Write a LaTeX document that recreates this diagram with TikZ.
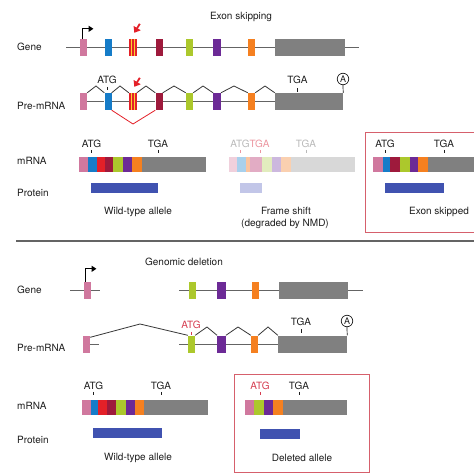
\documentclass[tikz,border=0pt]{standalone}
\usepackage{fontspec}
\setmainfont{TeX Gyre Heros}
\usetikzlibrary{arrows.meta}
\definecolor{cpink}{RGB}{208,120,158}
\definecolor{cblue}{RGB}{22,124,200}
\definecolor{cred}{RGB}{228,32,40}
\definecolor{cyellow}{RGB}{250,210,50}
\definecolor{cmaroon}{RGB}{158,26,60}
\definecolor{cgreen}{RGB}{172,200,44}
\definecolor{cpurple}{RGB}{108,42,150}
\definecolor{corange}{RGB}{245,128,32}
\definecolor{cgrey}{RGB}{128,128,128}
\definecolor{cprot}{RGB}{64,82,176}
\definecolor{cline}{RGB}{100,100,100}
\definecolor{csplice}{RGB}{55,55,55}
\definecolor{ctext}{RGB}{30,30,30}
\definecolor{cbox}{RGB}{214,96,108}
\definecolor{catgred}{RGB}{214,60,80}
\definecolor{fpink}{RGB}{240,208,220}
\definecolor{fblue}{RGB}{168,208,236}
\definecolor{forangeA}{RGB}{250,196,160}
\definecolor{fmaroon}{RGB}{226,172,196}
\definecolor{fgreen}{RGB}{226,236,190}
\definecolor{fpurple}{RGB}{204,184,222}
\definecolor{forange}{RGB}{250,208,176}
\definecolor{fgrey}{RGB}{216,216,216}
\definecolor{fprot}{RGB}{194,198,232}
\definecolor{ftext}{RGB}{185,185,185}
\definecolor{fred}{RGB}{236,150,160}
\tikzset{
 exon/.style={rectangle, inner sep=0pt, minimum height=17pt, minimum width=7pt},
 redexon/.style={exon, minimum width=7.5pt, fill=cred,
   path picture={\fill[cyellow] ([xshift=2.1pt]path picture bounding box.south west) rectangle ([xshift=3.1pt]path picture bounding box.north west);
                 \fill[cyellow] ([xshift=4.5pt]path picture bounding box.south west) rectangle ([xshift=5.5pt]path picture bounding box.north west);}},
 bigexon/.style={rectangle, inner sep=0pt, minimum height=17pt, fill=cgrey},
 lbl/.style={inner sep=0pt, font=\fontsize{10}{12}\selectfont, text height=7.2pt, text depth=0pt, text=ctext},
 rowlbl/.style={lbl, anchor=west},
 geneline/.style={draw=cline, line width=0.9pt},
 splice/.style={draw=csplice, line width=0.8pt},
 tickmark/.style={draw=ctext, line width=0.7pt},
 prot/.style={rectangle, inner sep=0pt, minimum height=10pt, fill=cprot},
 promoter/.style={draw=black, line width=1.3pt, -{Triangle[length=5pt,width=6pt]}},
 mut/.style={draw=cred, line width=1.8pt, -{Triangle[length=5.5pt,width=8pt]}},
 redbox/.style={draw=cbox, line width=1pt},
 polya/.style={circle, draw=ctext, line width=0.7pt, inner sep=0pt, minimum size=11.5pt, text=ctext, font=\fontsize{9}{10}\selectfont},
}
\begin{document}
\begin{tikzpicture}[x=1pt,y=-1pt]
\useasboundingbox (0,0) rectangle (474,474);
\fill[white] (0,0) rectangle (474,474);
\clip (0,0) rectangle (474,474);

% ================= Exon skipping =================
\node[lbl] (t1) at (241,15.5) {Exon skipping};

% Gene
\node[rowlbl] (lg1) at (17,46.5) {Gene};
\coordinate (gA) at (66,47.5);
\coordinate (gB) at (359,47.5);
\draw[geneline] (gA) -- (gB);
\node[exon, fill=cpink] (g1) at (83.5,47.5) {};
\node[exon, fill=cblue] (g2) at (108,47.5) {};
\node[redexon] (g3) at (132.8,47.5) {};
\node[exon, fill=cmaroon] (g4) at (159,47.5) {};
\node[exon, fill=cgreen] (g5) at (189.5,47.5) {};
\node[exon, fill=cpurple, minimum width=7.5pt] (g6) at (217,47.5) {};
\node[exon, fill=corange] (g7) at (251.5,47.5) {};
\node[bigexon, minimum width=70pt] (g8) at (310,47.5) {};
\draw[promoter] ([xshift=-1pt]g1.north) -- ++(0,-10) -- ++(11,0);
\draw[mut] ([xshift=7pt,yshift=15pt]g3.north) -- ([xshift=1.5pt,yshift=6pt]g3.north);

% Pre-mRNA
\node[rowlbl] (lp1) at (17,105.5) {Pre-mRNA};
\node[exon, fill=cpink] (p1) at (83.5,101.5) {};
\node[exon, fill=cblue] (p2) at (108,101.5) {};
\node[redexon] (p3) at (132.8,101.5) {};
\node[exon, fill=cmaroon] (p4) at (159,101.5) {};
\node[exon, fill=cgreen] (p5) at (189.5,101.5) {};
\node[exon, fill=cpurple, minimum width=7.5pt] (p6) at (217,101.5) {};
\node[exon, fill=corange] (p7) at (251.5,101.5) {};
\node[bigexon, minimum width=68pt] (p8) at (309,101.5) {};
\foreach \a/\b in {p1/p2,p2/p3,p3/p4,p4/p5,p5/p6,p6/p7,p7/p8}
  \draw[geneline] (\a.east) -- (\b.west);
\draw[splice] (p1.north east) -- (96,86) -- (p2.north west);
\draw[splice] (p2.north east) -- (120,86) -- (p3.north west);
\draw[splice] (p3.north east) -- (146,86) -- (p4.north west);
\draw[splice] (p4.north east) -- (174,86) -- (p5.north west);
\draw[splice] (p5.north east) -- (203,86) -- (p6.north west);
\draw[splice] (p6.north east) -- (234,86) -- (p7.north west);
\draw[splice] (p7.north east) -- (265,86) -- (p8.north west);
\draw[draw=cred, line width=0.8pt] (p2.south east) -- (133,124) -- (p4.south west);
\node[lbl] (atg1) at (107,80) {ATG};
\draw[tickmark] (atg1.south) ++(0,3) -- ++(0,3.5);
\node[lbl] (tga1) at (297.5,80) {TGA};
\draw[tickmark] (tga1.south) ++(0,4.5) -- ++(0,3.5);
\node[polya] (pa1) at (343,79) {A};
\draw[tickmark] (pa1.south) -- (p8.north east);
\draw[mut] ([xshift=7pt,yshift=15pt]p3.north) -- ([xshift=1.5pt,yshift=6pt]p3.north);

% mRNA wild type
\node[rowlbl] (lm1) at (17,161) {mRNA};
\fill[cpink] (79,157) rectangle (88,172);
\fill[cblue] (88,157) rectangle (97,172);
\fill[cred] (97,157) rectangle (104.5,172);
\fill[cmaroon] (104.5,157) rectangle (113,172);
\fill[cgreen] (113,157) rectangle (123,172);
\fill[cpurple] (123,157) rectangle (132,172);
\fill[corange] (132,157) rectangle (142,172);
\fill[cgrey] (142,157) rectangle (206,172);
\node[lbl] (atg2) at (91.5,143.5) {ATG};
\draw[tickmark] (atg2.south) ++(0,2.5) -- ++(0,3.5);
\node[lbl] (tga2) at (158,143.5) {TGA};
\draw[tickmark] (tga2.south) ++(0,2.5) -- ++(0,3.5);
\node[rowlbl] (lpr1) at (17,192.5) {Protein};
\node[prot, minimum width=67pt] (pr1) at (124.5,188) {};
\node[lbl] (wt1) at (138,211) {Wild-type allele};

% frame shift
\fill[fpink] (229,157) rectangle (237,172);
\fill[fblue] (237,157) rectangle (246,172);
\fill[forangeA] (246,157) rectangle (250,172);
\fill[fmaroon] (250,157) rectangle (262,172);
\fill[fgreen] (262,157) rectangle (272,172);
\fill[fpurple] (272,157) rectangle (281,172);
\fill[forange] (281,157) rectangle (291,172);
\fill[fgrey] (291,157) rectangle (355,172);
\node[lbl] (atg3) at (250,143.5) {\textcolor{ftext}{ATG}\textcolor{fred}{TGA}};
\draw[draw=fred, line width=0.7pt] ([xshift=-10pt]atg3.south) ++(0,2.5) -- ++(0,3.5);
\draw[draw=fred, line width=0.7pt] ([xshift=10pt]atg3.south) ++(0,2.5) -- ++(0,3.5);
\node[lbl, text=ftext] (tga3) at (306,143.5) {TGA};
\draw[draw=ftext, line width=0.7pt] (tga3.south) ++(0,2.5) -- ++(0,3.5);
\node[prot, fill=fprot, minimum width=22pt] (pr2) at (251,188) {};
\node[lbl] (fs1) at (286,210.5) {Frame shift};
\node[lbl] (fs2) at (285,222.5) {(degraded by NMD)};

% exon skipped
\draw[redbox] (365,132) rectangle (490,232);
\fill[cpink] (373,157) rectangle (383,172);
\fill[cblue] (383,157) rectangle (390,172);
\fill[cmaroon] (390,157) rectangle (400,172);
\fill[cgreen] (400,157) rectangle (410,172);
\fill[cpurple] (410,157) rectangle (418,172);
\fill[corange] (418,157) rectangle (428,172);
\fill[cgrey] (428,157) rectangle (490,172);
\node[lbl] (atg4) at (385,143.5) {ATG};
\draw[tickmark] (atg4.south) ++(0,2.5) -- ++(0,3.5);
\node[lbl] (tga4) at (444,143.5) {TGA};
\draw[tickmark] (tga4.south) ++(0,2.5) -- ++(0,3.5);
\node[prot, minimum width=59pt] (pr3) at (414.5,188) {};
\node[lbl] (es1) at (439,210.5) {Exon skipped};

% separator
\coordinate (sA) at (16,241);
\coordinate (sB) at (490,241);
\draw[draw=cline, line width=1.5pt] (sA) -- (sB);

% ================= Genomic deletion =================
\node[lbl] (t2) at (184,262) {Genomic deletion};

% Gene
\node[rowlbl] (lg2) at (17,289.5) {Gene};
\coordinate (hA) at (70,290.5);
\coordinate (hB) at (100,290.5);
\coordinate (hC) at (179,290.5);
\coordinate (hD) at (363,290.5);
\draw[geneline] (hA) -- (hB);
\draw[geneline] (hC) -- (hD);
\node[exon, fill=cpink] (h1) at (87,290.5) {};
\node[exon, fill=cgreen] (h5) at (192,290.5) {};
\node[exon, fill=cpurple, minimum width=8.5pt] (h6) at (221.5,290.5) {};
\node[exon, fill=corange] (h7) at (255.5,290.5) {};
\node[bigexon, minimum width=69pt] (h8) at (313.5,290.5) {};
\draw[promoter] ([xshift=-1.5pt]h1.north) -- ++(0,-13) -- ++(11,0);

% Pre-mRNA
\node[rowlbl] (lp2) at (17,348) {Pre-mRNA};
\node[exon, fill=cpink] (q1) at (86.5,344) {};
\coordinate (qs) at (99,344);
\draw[geneline] (q1.east) -- (qs);
\coordinate (qc) at (179,344);
\node[exon, fill=cgreen] (q5) at (191.5,344) {};
\node[exon, fill=cpurple, minimum width=8.5pt] (q6) at (221.5,344) {};
\node[exon, fill=corange] (q7) at (254.5,344) {};
\node[bigexon, minimum width=69pt] (q8) at (312.5,344) {};
\draw[geneline] (qc) -- (q5.west);
\foreach \a/\b in {q5/q6,q6/q7,q7/q8}
  \draw[geneline] (\a.east) -- (\b.west);
\draw[splice] ([yshift=-2pt]q1.north east) -- (140,324) -- (q5.north west);
\draw[splice] (q5.north east) -- (207,327) -- (q6.north west);
\draw[splice] (q6.north east) -- (238,327) -- (q7.north west);
\draw[splice] (q7.north east) -- (268,327) -- (q8.north west);
\node[lbl, text=catgred] (atg5) at (191,325) {ATG};
\draw[draw=catgred, line width=0.7pt] (atg5.south) ++(0,3) -- ++(0,3.5);
\node[lbl] (tga5) at (301,322) {TGA};
\draw[tickmark] (tga5.south) ++(0,3.5) -- ++(0,3.5);
\node[polya] (pa2) at (347,321) {A};
\draw[tickmark] (pa2.south) -- (q8.north east);

% mRNA wild type
\node[rowlbl] (lm2) at (17,405.5) {mRNA};
\fill[cpink] (82,399.5) rectangle (91,414.5);
\fill[cblue] (91,399.5) rectangle (98,414.5);
\fill[cred] (98,399.5) rectangle (107,414.5);
\fill[cmaroon] (107,399.5) rectangle (116,414.5);
\fill[cgreen] (116,399.5) rectangle (126,414.5);
\fill[cpurple] (126,399.5) rectangle (135,414.5);
\fill[corange] (135,399.5) rectangle (144,414.5);
\fill[cgrey] (144,399.5) rectangle (208,414.5);
\node[lbl] (atg6) at (93.5,385.5) {ATG};
\draw[tickmark] (atg6.south) ++(0,2.5) -- ++(0,3.5);
\node[lbl] (tga6) at (161,385.5) {TGA};
\draw[tickmark] (tga6.south) ++(0,2.5) -- ++(0,3.5);
\node[rowlbl] (lpr2) at (17,439.5) {Protein};
\node[prot, minimum width=69pt] (pr4) at (127.5,433) {};
\node[lbl] (wt2) at (138,457) {Wild-type allele};

% deleted allele
\draw[redbox] (234,374) rectangle (369,472);
\fill[cpink] (245,399.5) rectangle (254,414.5);
\fill[cgreen] (254,399.5) rectangle (264,414.5);
\fill[cpurple] (264,399.5) rectangle (273,414.5);
\fill[corange] (273,399.5) rectangle (283,414.5);
\fill[cgrey] (283,399.5) rectangle (347,414.5);
\node[lbl, text=catgred] (atg7) at (260,385.5) {ATG};
\draw[draw=catgred, line width=0.7pt] (atg7.south) ++(0,2.5) -- ++(0,3.5);
\node[lbl] (tga7) at (299,385.5) {TGA};
\draw[tickmark] (tga7.south) ++(0,2.5) -- ++(0,3.5);
\node[prot, minimum width=40pt] (pr5) at (280,433.5) {};
\node[lbl] (da1) at (302,458) {Deleted allele};
\end{tikzpicture}
\end{document}
